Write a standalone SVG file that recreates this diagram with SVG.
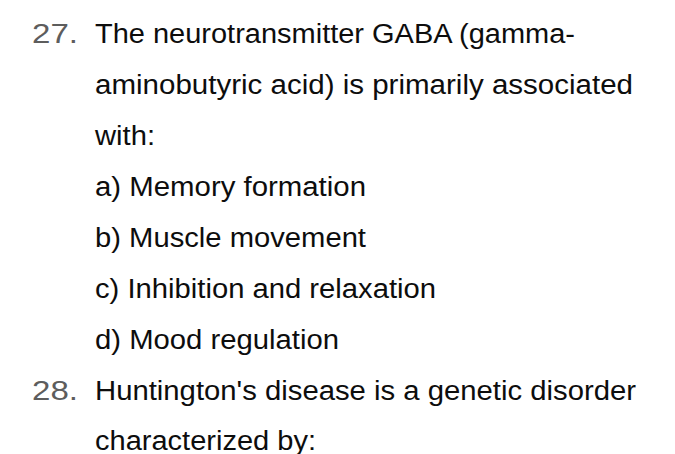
<svg xmlns="http://www.w3.org/2000/svg" width="675" height="454" viewBox="0 0 675 454">
<style>
text{font-family:"Liberation Sans","Inter",sans-serif;font-size:27px;fill:#0d0d0d}
.n{fill:#5d5d5d}
</style>
<rect width="675" height="454" fill="#fff"/>
<text class="n" x="32" y="43" textLength="46" lengthAdjust="spacingAndGlyphs">27.</text>
<text x="95" y="43" textLength="480" lengthAdjust="spacingAndGlyphs">The neurotransmitter GABA (gamma-</text>
<text x="95" y="94" textLength="538" lengthAdjust="spacingAndGlyphs">aminobutyric acid) is primarily associated</text>
<text x="95" y="145" textLength="60" lengthAdjust="spacingAndGlyphs">with:</text>
<text x="95" y="196" textLength="271" lengthAdjust="spacingAndGlyphs">a) Memory formation</text>
<text x="95" y="247" textLength="271" lengthAdjust="spacingAndGlyphs">b) Muscle movement</text>
<text x="95" y="298" textLength="341" lengthAdjust="spacingAndGlyphs">c) Inhibition and relaxation</text>
<text x="95" y="349" textLength="244" lengthAdjust="spacingAndGlyphs">d) Mood regulation</text>
<text class="n" x="32" y="400" textLength="46" lengthAdjust="spacingAndGlyphs">28.</text>
<text x="95" y="400" textLength="541" lengthAdjust="spacingAndGlyphs">Huntington's disease is a genetic disorder</text>
<text x="95" y="450" textLength="221" lengthAdjust="spacingAndGlyphs">characterized by:</text>
</svg>
